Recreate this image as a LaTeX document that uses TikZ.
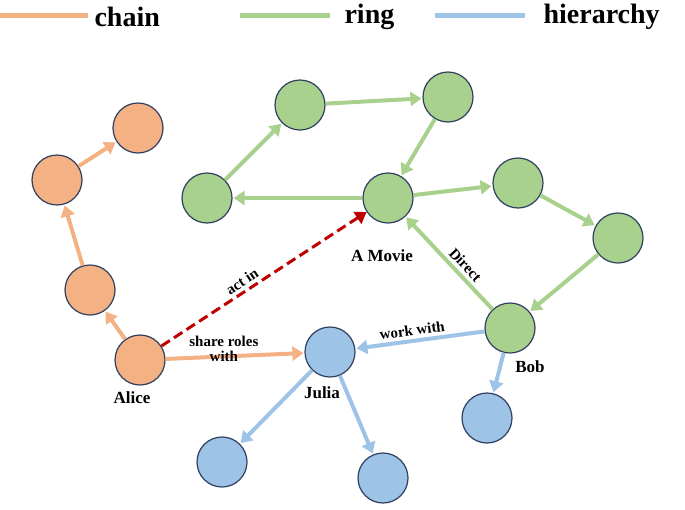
\documentclass[tikz,border=0pt]{standalone}
\usepackage{fontspec}
\setmainfont{Liberation Serif}
\usetikzlibrary{arrows.meta}
\definecolor{och}{HTML}{F4B183}
\definecolor{gr}{HTML}{A9D18E}
\definecolor{bl}{HTML}{9DC3E6}
\definecolor{edge}{HTML}{2F3F5F}
\begin{document}
\begin{tikzpicture}[x=1pt,y=-1pt,
 nd/.style={circle,draw=edge,line width=1.2pt,minimum size=50pt,inner sep=0pt},
 on/.style={nd,fill=och}, gn/.style={nd,fill=gr}, bn/.style={nd,fill=bl},
 ea/.style={line width=4pt,-{Triangle[length=11pt,width=14pt]},shorten >=1pt},
 oe/.style={ea,draw=och}, ge/.style={ea,draw=gr}, be/.style={ea,draw=bl},
 lb/.style={font=\bfseries\fontsize{17}{19}\selectfont},
 el/.style={font=\bfseries\fontsize{15}{16}\selectfont},
 lg/.style={font=\bfseries\fontsize{28}{30}\selectfont,anchor=west}]
\useasboundingbox (0,0) rectangle (685,509);
% legend
\coordinate (l1a) at (0,15); \coordinate (l1b) at (88,15);
\coordinate (l2a) at (240,15); \coordinate (l2b) at (330,15);
\coordinate (l3a) at (435,15); \coordinate (l3b) at (525,15);
\draw[och,line width=5pt] (l1a)--(l1b);
\draw[gr,line width=5pt] (l2a)--(l2b);
\draw[bl,line width=5pt] (l3a)--(l3b);
\node[lg] (t1) at (91,17) {chain};
\node[lg] (t2) at (341,17) {ring};
\node[lg] (t3) at (540,17) {hierarchy};
% nodes
\node[on] (alice) at (140,360) {};
\node[on] (o2) at (90,290) {};
\node[on] (o3) at (57,180) {};
\node[on] (o4) at (138,128) {};
\node[gn] (g1) at (300,105) {};
\node[gn] (g2) at (448,97) {};
\node[gn] (movie) at (388,198) {};
\node[gn] (g4) at (207,198) {};
\node[gn] (g5) at (518,183) {};
\node[gn] (g6) at (618,238) {};
\node[gn] (bob) at (510,328) {};
\node[bn] (julia) at (330,352) {};
\node[bn] (b1) at (222,462) {};
\node[bn] (b2) at (383,478) {};
\node[bn] (b3) at (487,418) {};
% labels
\node[lb] (la) at (132,398) {Alice};
\node[lb] (lj) at (322,393) {Julia};
\node[lb] (lbb) at (530,367) {Bob};
\node[lb] (lm) at (382,256) {A Movie};
% edges
\draw[oe] (alice)--(o2);
\draw[oe] (o2)--(o3);
\draw[oe] (o3)--(o4);
\draw[ge] (g4)--(g1);
\draw[ge] (g1)--(g2);
\draw[ge] (g2)--(movie);
\draw[ge] (movie)--(g4);
\draw[ge] (movie)--(g5);
\draw[ge] (g5)--(g6);
\draw[ge] (g6)--(bob);
\draw[ge] (bob)--(movie) node[el,pos=0.4,above,sloped] {Direct};
\draw[oe] (alice)--(julia) node[el,pos=0.42,above,align=center,yshift=-11pt] {share roles\\[-1pt]with};
\draw[line width=3pt,draw=red!75!black,dash pattern=on 10pt off 5pt,-{Triangle[length=11pt,width=14pt]}] (alice)--(movie) node[el,pos=0.42,above,sloped] {act in};
\draw[be] (bob)--(julia) node[el,pos=0.55,above,sloped] {work with};
\draw[be] (bob)--(b3);
\draw[be] (julia)--(b1);
\draw[be] (julia)--(b2);
\end{tikzpicture}
\end{document}
